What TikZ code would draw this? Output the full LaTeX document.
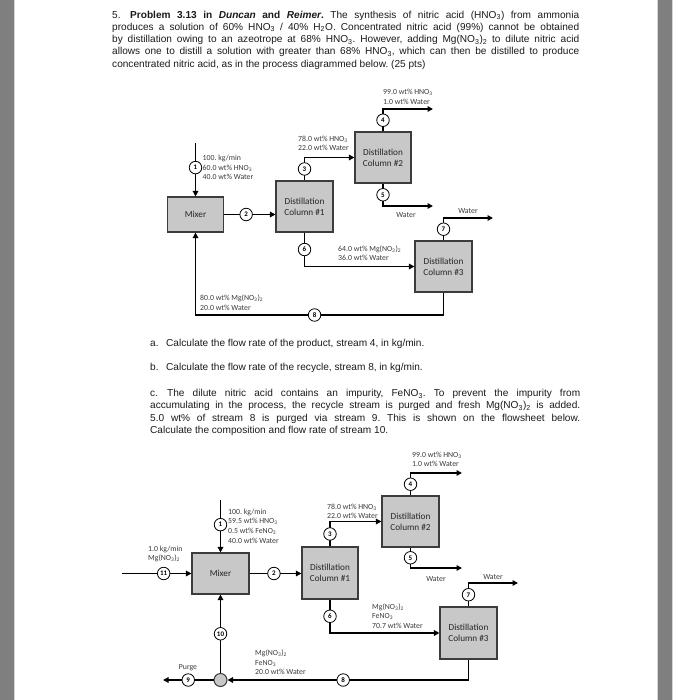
\documentclass[tikz,border=0pt]{standalone}
\usepackage{fontspec}
\setmainfont{Liberation Sans}
\newfontfamily\carl{Carlito}
\usetikzlibrary{arrows.meta}
\frenchspacing
\definecolor{barg}{HTML}{7F7F7F}
\definecolor{bare}{HTML}{D4D4D4}
\definecolor{boxg}{HTML}{C8C8C8}
\definecolor{boxd}{HTML}{3C3C3C}
\definecolor{txt}{HTML}{1A1A1A}
\definecolor{lblc}{HTML}{3A3A3A}
\begin{document}
\begin{tikzpicture}[x=1pt,y=-1pt,
  unit/.style={draw=boxd,fill=boxg,line width=1.1pt,inner sep=0pt,align=center,
    font=\carl\fontsize{9.2}{10.7}\selectfont,text=black!85},
  stream/.style={circle,draw=black,fill=white,line width=0.8pt,inner sep=0pt,
    minimum size=12.5pt,font=\carl\bfseries\fontsize{7}{7}\selectfont},
  splitter/.style={circle,draw=boxd,fill=boxg,line width=1pt,inner sep=0pt,minimum size=13pt},
  flow/.style={line width=1.5pt,draw=black},
  arr/.style={flow,-{Triangle[length=5.5pt,width=5.5pt]}},
  lbl/.style={font=\carl\fontsize{7.8}{9.6}\selectfont,text=lblc,inner sep=0pt,align=left,anchor=west},
  lblm/.style={font=\carl\fontsize{7.8}{9.6}\selectfont,text=lblc,inner sep=0pt},
  para/.style={inner sep=0pt,align=justify,font=\fontsize{10.1}{12.25}\selectfont,text=txt,anchor=base west}
]
\useasboundingbox (0,0) rectangle (673,700);
% page side bars
\fill[barg] (0,0) rectangle (14,700);
\fill[bare] (14,0) rectangle (15.3,700);
\fill[bare] (656.8,0) rectangle (658,700);
\fill[barg] (658,0) rectangle (672,700);
\fill[bare] (672,0) rectangle (673,700);

% ---------------- text ----------------
\node[para,text width=467pt] (q5) at (112,18.2) {\hyphenpenalty=10000\hangindent=18pt\hangafter=1\makebox[18pt][l]{5.}\textbf{Problem 3.13 in \textit{Duncan} and \textit{Reimer}.} The synthesis of nitric acid (HNO\textsubscript{3}) from ammonia\linebreak
produces a solution of 60\% HNO\textsubscript{3} / 40\% H\textsubscript{2}O. Concentrated nitric acid (99\%) cannot be obtained\linebreak
by distillation owing to an azeotrope at 68\% HNO\textsubscript{3}. However, adding Mg(NO\textsubscript{3})\textsubscript{2} to dilute nitric acid\linebreak
allows one to distill a solution with greater than 68\% HNO\textsubscript{3}, which can then be distilled to produce\linebreak
concentrated nitric acid, as in the process diagrammed below. (25 pts)};

\node[para] (qa) at (150,346.5) {\makebox[16pt][l]{a.}Calculate the flow rate of the product, stream 4, in kg/min.};
\node[para] (qb) at (150,370.5) {\makebox[16pt][l]{b.}Calculate the flow rate of the recycle, stream 8, in kg/min.};
\node[para,text width=430pt] (qc) at (150,396.5) {\hyphenpenalty=10000\hangindent=17pt\hangafter=1\makebox[17pt][l]{c.}The dilute nitric acid contains an impurity, FeNO\textsubscript{3}. To prevent the impurity from\linebreak
accumulating in the process, the recycle stream is purged and fresh Mg(NO\textsubscript{3})\textsubscript{2} is added.\linebreak
5.0 wt\% of stream 8 is purged via stream 9. This is shown on the flowsheet below.\linebreak
Calculate the composition and flow rate of stream 10.};

% ---------------- diagram 1 ----------------
\node[unit,minimum width=56pt,minimum height=35pt] (mixA) at (195.5,214.5) {Mixer};
\node[unit,minimum width=57pt,minimum height=51pt] (c1A) at (304.5,206.5) {Distillation\\Column \#1};
\node[unit,minimum width=56pt,minimum height=51pt] (c2A) at (383,157.5) {Distillation\\Column \#2};
\node[unit,minimum width=57pt,minimum height=51pt] (c3A) at (443.5,266.5) {Distillation\\Column \#3};
\coordinate (in1A) at (195.5,143);
\coordinate (out4A) at (433,109);
\coordinate (out5A) at (433,206);
\coordinate (out7A) at (493,218);
\coordinate (r8A) at (195.5,315);

\draw[arr] (in1A) -- node[stream,pos=0.46]{1} (mixA.north);
\draw[arr] (mixA.east) -- node[stream,pos=0.43]{2} (c1A.west |- mixA.east);
\draw[arr] (c1A.north) |- node[stream,pos=0.25]{3} (c2A.west);
\draw[arr] (c2A.north) |- node[stream,pos=0.25]{4} (out4A);
\draw[arr] (c2A.south) |- node[stream,pos=0.25]{5} (out5A);
\draw[arr] (c1A.south) |- node[stream,pos=0.25]{6} (c3A.west);
\draw[arr] (c3A.north) |- node[stream,pos=0.25]{7} (out7A);
\draw[arr] (c3A.south) |- node[stream,pos=0.76]{8} (r8A) -- (mixA.south);

\node[lbl] (l4A) at (383,97) {99.0 wt\% HNO\textsubscript{3}\\1.0 wt\% Water};
\node[lbl] (l3A) at (298,143.5) {78.0 wt\% HNO\textsubscript{3}\\22.0 wt\% Water};
\node[lbl] (l1A) at (202.5,167.5) {100. kg/min\\60.0 wt\% HNO\textsubscript{3}\\40.0 wt\% Water};
\node[lblm] (l5A) at (406,215) {Water};
\node[lblm] (l7A) at (468,211) {Water};
\node[lbl] (l6A) at (338,253) {64.0 wt\% Mg(NO\textsubscript{3})\textsubscript{2}\\36.0 wt\% Water};
\node[lbl] (l8A) at (200,302.5) {80.0 wt\% Mg(NO\textsubscript{3})\textsubscript{2}\\20.0 wt\% Water};

% ---------------- diagram 2 ----------------
\node[unit,minimum width=57pt,minimum height=41pt] (mixB) at (220.5,573.5) {Mixer};
\node[unit,minimum width=56pt,minimum height=52pt] (c1B) at (330,573) {Distillation\\Column \#1};
\node[unit,minimum width=57pt,minimum height=51pt] (c2B) at (410.5,521.5) {Distillation\\Column \#2};
\node[unit,minimum width=57pt,minimum height=52pt] (c3B) at (468.5,633) {Distillation\\Column \#3};
\node[splitter] (spB) at (220.5,680) {};
\coordinate (in1B) at (220.5,500);
\coordinate (in11B) at (122,573.5);
\coordinate (out4B) at (462,473);
\coordinate (out5B) at (462,568);
\coordinate (out7B) at (518,583);
\coordinate (out9B) at (163,680);

\draw[arr] (in1B) -- node[stream,pos=0.47]{1} (mixB.north);
\draw[arr] (in11B) -- node[stream,pos=0.6]{11} (mixB.west);
\draw[arr] (mixB.east) -- node[stream,pos=0.47]{2} (c1B.west |- mixB.east);
\draw[arr] (c1B.north) |- node[stream,pos=0.25]{3} (c2B.west);
\draw[arr] (c2B.north) |- node[stream,pos=0.25]{4} (out4B);
\draw[arr] (c2B.south) |- node[stream,pos=0.25]{5} (out5B);
\draw[arr] (c1B.south) |- node[stream,pos=0.25]{6} (c3B.west);
\draw[arr] (c3B.north) |- node[stream,pos=0.25]{7} (out7B);
\draw[arr] (c3B.south) |- node[stream,pos=0.76]{8} (spB.east);
\draw[arr] (spB.north) -- node[stream]{10} (mixB.south);
\draw[arr] (spB.west) -- node[stream]{9} (out9B);

\node[lbl] (l4B) at (412,459.5) {99.0 wt\% HNO\textsubscript{3}\\1.0 wt\% Water};
\node[lbl] (l3B) at (327,511.5) {78.0 wt\% HNO\textsubscript{3}\\22.0 wt\% Water};
\node[lbl] (l1B) at (228,526) {100. kg/min\\59.5 wt\% HNO\textsubscript{3}\\0.5 wt\% FeNO\textsubscript{3}\\40.0 wt\% Water};
\node[lbl] (l11B) at (148,554) {1.0 kg/min\\Mg(NO\textsubscript{3})\textsubscript{2}};
\node[lblm] (l5B) at (436,579) {Water};
\node[lblm] (l7B) at (493,577) {Water};
\node[lbl] (l6B) at (372,616) {Mg(NO\textsubscript{3})\textsubscript{2}\\FeNO\textsubscript{3}\\70.7 wt\% Water};
\node[lbl] (l8B) at (255,662.5) {Mg(NO\textsubscript{3})\textsubscript{2}\\FeNO\textsubscript{3}\\20.0 wt\% Water};
\node[lblm] (l9B) at (188,668) {Purge};
\end{tikzpicture}
\end{document}
